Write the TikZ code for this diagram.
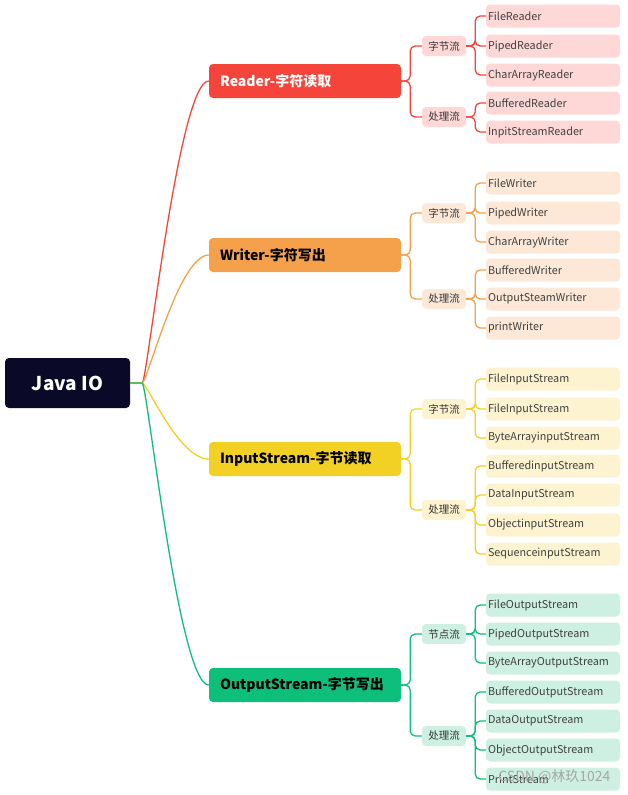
\documentclass[tikz,border=0pt]{standalone}
\usepackage{fontspec}
\setmainfont{Noto Sans CJK SC}
\begin{document}
\begin{tikzpicture}[x=1pt,y=-1pt,
 leaf/.style={rounded corners=4pt,minimum width=134pt,minimum height=23pt,text width=130pt,align=left,inner sep=2pt,font=\fontsize{10.8}{12}\selectfont,text=black!75},
 sub/.style={rounded corners=4pt,minimum width=44pt,minimum height=20pt,inner sep=1pt,font=\fontsize{10.5}{12}\selectfont,text=black!80},
 main/.style={rounded corners=4pt,minimum width=192pt,minimum height=34pt,text width=170pt,align=left,font=\bfseries\fontsize{14}{16}\selectfont},
 con/.style={line width=1.3pt,rounded corners=5pt}]
\definecolor{cR}{HTML}{F5443A}\definecolor{lR}{HTML}{FDD8D7}
\definecolor{cW}{HTML}{F5A04B}\definecolor{lW}{HTML}{FDE8D8}
\definecolor{cI}{HTML}{F2D024}\definecolor{lI}{HTML}{FDF3D0}
\definecolor{cO}{HTML}{0DBF7A}\definecolor{lO}{HTML}{CDF0E2}
\definecolor{nav}{HTML}{0A0A28}
\useasboundingbox (0,0) rectangle (628,795);
\node[fill=nav,rounded corners=4pt,minimum width=125pt,minimum height=50pt,text=white,font=\bfseries\fontsize{19}{21}\selectfont] (root) at (67.5,383) {Java IO};
\def\branch#1#2#3#4#5#6{%
 \node[main,fill=#2,text=#5] (#1) at (305,#4) {#6};
 \draw[con,#2] (root.east) -- ++(7,0) .. controls +(10,0) and +(-30,0) .. (#1.west);}
\branch{R}{cR}{lR}{81}{white}{Reader-字符读取}
\branch{W}{cW}{lW}{255}{black}{Writer-字符写出}
\branch{I}{cI}{lI}{459}{black}{InputStream-字节读取}
\branch{O}{cO}{lO}{685}{black}{OutputStream-字节写出}
\foreach \m/\c/\l/\a/\b/\ta in {R/cR/lR/46/117/字节流,W/cW/lW/213/299/字节流,I/cI/lI/409/510/字节流,O/cO/lO/634/736/节点流}{
 \node[sub,fill=\l] (\m a) at (444,\a) {\ta};
 \node[sub,fill=\l] (\m b) at (444,\b) {处理流};
 \draw[con,\c] (\m.east) -- ++(9,0) |- (\m a.west);
 \draw[con,\c] (\m.east) -- ++(9,0) |- (\m b.west);
}
\def\leaves#1#2#3#4{%
 \foreach \y/\t [count=\k] in {#4}{
  \node[leaf,fill=#3] (#1\k) at (553,\y) {\t};
  \draw[con,#2] (#1.east) -- ++(9,0) |- (#1\k.west);}}
\leaves{Ra}{cR}{lR}{16/FileReader,46/PipedReader,75/CharArrayReader}
\leaves{Rb}{cR}{lR}{103/BufferedReader,132/InpitStreamReader}
\leaves{Wa}{cW}{lW}{183/FileWriter,213/PipedWriter,242/CharArrayWriter}
\leaves{Wb}{cW}{lW}{270/BufferedWriter,299/OutputSteamWriter,328/printWriter}
\leaves{Ia}{cI}{lI}{379/FileInputStream,409/FileInputStream,438/ByteArrayinputStream}
\leaves{Ib}{cI}{lI}{466/BufferedinputStream,495/DataInputStream,525/ObjectinputStream,554/SequenceinputStream}
\leaves{Oa}{cO}{lO}{605/FileOutputStream,634/PipedOutputStream,663/ByteArrayOutputStream}
\leaves{Ob}{cO}{lO}{692/BufferedOutputStream,721/DataOutputStream,750/ObjectOutputStream,779/PrintStream}
\node[text=gray!70,font=\fontsize{14}{16}\selectfont,anchor=east] (wm) at (614,777) {CSDN @林玖1024};
\end{tikzpicture}
\end{document}
